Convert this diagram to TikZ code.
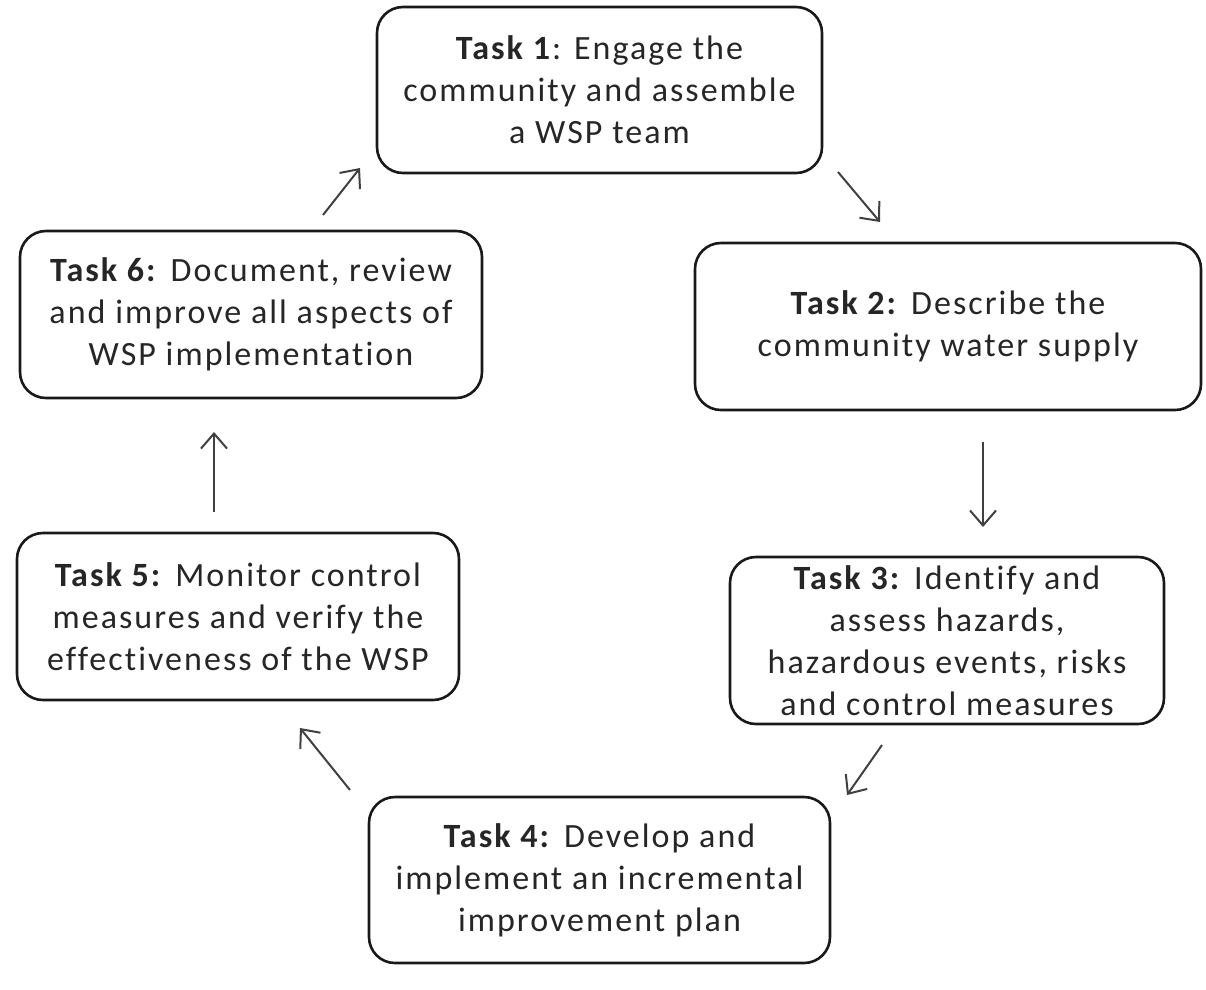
\documentclass[tikz,border=0pt]{standalone}
\usepackage{fontspec}
\setmainfont{Carlito}[Ligatures=NoCommon, LetterSpace=6]
\usetikzlibrary{arrows.meta}

\begin{document}
\begin{tikzpicture}[x=1pt, y=-1pt,
    task/.style={draw=black!90, line width=2.6pt, rounded corners=26pt, align=center,
      text=black!85, font=\fontsize{34}{42}\selectfont, inner sep=0pt},
    flow/.style={-{Straight Barb[length=15pt,width=26pt,line width=2pt]}, line width=2pt, draw=black!75}]
  \useasboundingbox (0,0) rectangle (1206,989);
  % ---------------------------------------------------------------- the six tasks
  \node[task, minimum width=445pt, minimum height=166pt] (t1) at (599.5,90)
    {\textbf{Task 1}: Engage the\\community and assemble\\a WSP team};
  \node[task, minimum width=506pt, minimum height=167pt] (t2) at (948,326.5)
    {\textbf{Task 2:} Describe the\\community water supply};
  \node[task, minimum width=434pt, minimum height=167pt] (t3) at (947,640.5)
    {\textbf{Task 3:} Identify and\\assess hazards,\\hazardous events, risks\\and control measures};
  \node[task, minimum width=461pt, minimum height=166pt] (t4) at (599.5,880)
    {\textbf{Task 4:} Develop and\\implement an incremental\\improvement plan};
  \node[task, minimum width=442pt, minimum height=167pt] (t5) at (238,616.5)
    {\textbf{Task 5:} Monitor control\\measures and verify the\\effectiveness of the WSP};
  \node[task, minimum width=462pt, minimum height=167pt] (t6) at (251,314.5)
    {\textbf{Task 6:} Document, review\\and improve all aspects of\\WSP implementation};
  % ---------------------------------------------------------------- the arrows between them
  \coordinate (a1s) at (838,172);  \coordinate (a1e) at (880,222);
  \coordinate (a2s) at (983,442);  \coordinate (a2e) at (983,527);
  \coordinate (a3s) at (882,745);  \coordinate (a3e) at (847,795);
  \coordinate (a4s) at (350,790);  \coordinate (a4e) at (300,728);
  \coordinate (a5s) at (214,512);  \coordinate (a5e) at (214,432);
  \coordinate (a6s) at (323,215);  \coordinate (a6e) at (360,168);
  \foreach \i in {1,...,6}
    \draw[flow] (a\i s) -- (a\i e);
\end{tikzpicture}
\end{document}
